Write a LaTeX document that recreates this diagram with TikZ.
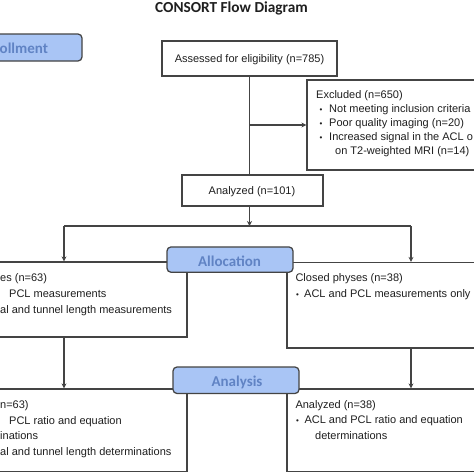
\documentclass[tikz,border=0pt]{standalone}
\usepackage{fontspec}
\setmainfont{Liberation Sans}
\newfontfamily\calib{Carlito}
\usetikzlibrary{arrows.meta}
\definecolor{edge}{HTML}{444444}
\definecolor{phasefill}{HTML}{A9C5F5}
\definecolor{phasetext}{HTML}{6083C4}
\tikzset{
 box/.style={draw=edge, line width=1.25pt, fill=white, rectangle, inner sep=0pt},
 phase/.style={draw=edge, line width=1.25pt, fill=phasefill, rounded corners=4pt, rectangle, inner sep=0pt},
 txt/.style={anchor=base west, inner sep=0pt, font=\fontsize{11}{13}\selectfont, text=black!88},
 bul/.style={anchor=base west, inner sep=0pt, font=\fontsize{8}{10}\selectfont, text=black!88},
 ptxt/.style={anchor=base, inner sep=0pt, font=\calib\bfseries\fontsize{15}{17}\selectfont, text=phasetext},
 conn/.style={draw=edge, line width=1.25pt},
 arr/.style={conn, -{Stealth[length=5pt,width=5pt]}},
}
\begin{document}
\begin{tikzpicture}[x=1pt,y=-1pt]
\clip (0,0) rectangle (474,474);
\fill[white] (0,0) rectangle (474,474);

% title
\node[anchor=base, inner sep=0pt, font=\calib\bfseries\fontsize{15.3}{17}\selectfont, text=black!88] (title) at (231.5,12.5) {CONSORT Flow Diagram};

% boxes
\node[phase, minimum width=122pt, minimum height=27pt] (enroll) at (21,47.5) {};
\node[box, minimum width=175pt, minimum height=35pt] (assess) at (249.5,58.5) {};
\node[box, minimum width=213pt, minimum height=90pt] (excl) at (413.5,125) {};
\node[box, minimum width=141pt, minimum height=31pt] (anal) at (252.5,190.5) {};
\node[box, minimum width=227pt, minimum height=75pt] (lb1) at (73.5,299.5) {};
\node[box, minimum width=233pt, minimum height=85.5pt] (rb1) at (403.5,305.25) {};
\node[phase, minimum width=126pt, minimum height=25.3pt] (alloc) at (230,259.6) {};
\node[box, minimum width=227pt, minimum height=82.5pt] (lb2) at (73.5,430.25) {};
\node[box, minimum width=233pt, minimum height=82.5pt] (rb2) at (403.5,430.25) {};
\node[phase, minimum width=126pt, minimum height=26.5pt] (analysis) at (236,380.25) {};

% connectors
\draw[conn] (assess.south) -- (assess.south |- anal.north);
\draw[arr] (assess.south |- excl.west) -- (excl.west);
\coordinate (split) at (249.5,226);
\coordinate (sl) at (64,226);
\coordinate (sr) at (411,226);
\draw[arr] (anal.south -| assess.south) -- (split);
\draw[conn] (sl) -- (sr);
\draw[arr] (sl) -- (sl |- lb1.north);
\draw[arr] (sr) -- (sr |- rb1.north);
\draw[arr] (sl |- lb1.south) -- (sl |- lb2.north);
\draw[arr] (sr |- rb1.south) -- (sr |- rb2.north);

% phase labels
\node[ptxt, anchor=base west] (enrollt) at (-0.5,53.3) {ollment};
\node[ptxt] (alloct) at (229.5,266.7) {Allocation};
\node[ptxt] (analysist) at (237,386.4) {Analysis};

% box texts
\node[txt, anchor=base] (assesst) at (249.5,62) {Assessed for eligibility (n=785)};
\node[txt, anchor=base] (analt) at (252,194) {Analyzed (n=101)};

\node[txt] (ex0) at (316,98.4) {Excluded (n=650)};
\node[bul] (exb1) at (319.5,112) {•};
\node[txt] (ex1) at (329,112) {Not meeting inclusion criteria};
\node[bul] (exb2) at (319.5,126) {•};
\node[txt] (ex2) at (329,126) {Poor quality imaging (n=20)};
\node[bul] (exb3) at (319.5,140) {•};
\node[txt] (ex3) at (329,140) {Increased signal in the ACL o};
\node[txt] (ex4) at (335,154) {on T2-weighted MRI (n=14)};

\node[txt] (l10) at (0,281) {es (n=63)};
\node[txt] (l11) at (9,297) {PCL measurements};
\node[txt] (l12) at (0,313) {al and tunnel length measurements};

\node[txt] (r10) at (295.3,281) {Closed physes (n=38)};
\node[bul] (rb1b) at (296,297) {•};
\node[txt] (r11) at (304,297) {ACL and PCL measurements only};

\node[txt] (l20) at (0,408) {n=63)};
\node[txt] (l21) at (9,424) {PCL ratio and equation};
\node[txt] (l22) at (0,439.5) {inations};
\node[txt] (l23) at (0,455) {al and tunnel length determinations};

\node[txt] (r20) at (295.3,408) {Analyzed (n=38)};
\node[bul] (rb2b) at (296,423.5) {•};
\node[txt] (r21) at (304.3,423.5) {ACL and PCL ratio and equation};
\node[txt] (r22) at (315,439.5) {determinations};
\end{tikzpicture}
\end{document}
